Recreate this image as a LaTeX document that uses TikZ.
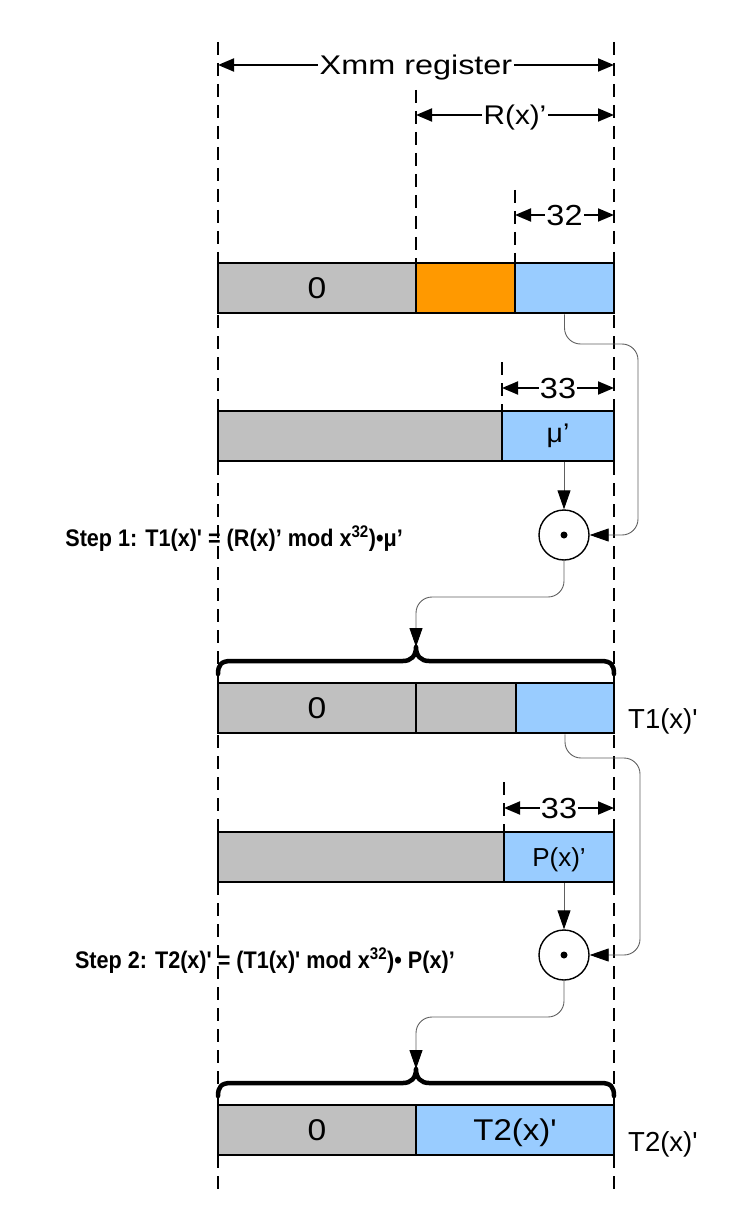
\documentclass[tikz,border=0pt]{standalone}
\usepackage{fontspec}
\setmainfont{Liberation Sans}[Ligatures=TeXOff]
\usepackage{graphicx}
\usetikzlibrary{arrows.meta}
\definecolor{cgray}{HTML}{C0C0C0}
\definecolor{corange}{HTML}{FF9900}
\definecolor{cblue}{HTML}{99CCFF}
\definecolor{cline}{HTML}{606060}
\newcommand{\sx}[2]{\scalebox{#1}[1]{#2}}
\begin{document}
\begin{tikzpicture}[x=1pt,y=-1pt,
  guide/.style={line width=1.8pt, dash pattern=on 13pt off 8pt},
  dimline/.style={line width=1.9pt, {Triangle[length=16pt,width=13pt]}-{Triangle[length=16pt,width=13pt]}},
  dimlab/.style={fill=white, inner sep=2pt, text depth=0pt},
  cell/.style={draw=black, line width=2.9pt, inner sep=0pt, minimum height=50pt},
  conn/.style={draw=cline, line width=0.9pt, rounded corners=16pt},
  conntip/.style={-{Triangle[length=19pt,width=13pt,color=black]}},
  opnode/.style={circle, draw=black, line width=1.4pt, fill=white, minimum size=50pt, inner sep=0pt},
  opdot/.style={circle, fill=black, minimum size=7pt, inner sep=0pt},
  bracestyle/.style={line width=4.5pt, line cap=round, line join=round},
  bigtext/.style={font=\fontsize{27}{32}\selectfont},
  boxtext/.style={font=\fontsize{30}{34}\selectfont, text height=21.5pt, text depth=0pt},
  steptext/.style={font=\fontsize{24}{28}\selectfont\bfseries, inner sep=0pt, anchor=east, text height=17.2pt, text depth=0pt},
  sidetext/.style={font=\fontsize{27.5}{32}\selectfont, inner sep=0pt, anchor=west, text height=19.7pt, text depth=0pt}
]
\useasboundingbox (0,0) rectangle (742,1230);

% guide coordinates
\coordinate (gLt) at (218,42);  \coordinate (gLb) at (218,1193);
\coordinate (gRt) at (614,42);  \coordinate (gRb) at (614,1193);
\coordinate (gAt) at (416,90);  \coordinate (gAb) at (416,263);
\coordinate (gBt) at (515,190); \coordinate (gBb) at (515,263);
\coordinate (gCt) at (502,362); \coordinate (gCb) at (502,411);
\coordinate (gDt) at (504,782); \coordinate (gDb) at (504,832);
\draw[guide] (gLt) -- (gLb);
\draw[guide] (gRt) -- (gRb);
\draw[guide] (gAt) -- (gAb);
\draw[guide] (gBt) -- (gBb);
\draw[guide] (gCt) -- (gCb);
\draw[guide] (gDt) -- (gDb);

% dimension arrows
\coordinate (xmmL) at (218,65);  \coordinate (xmmR) at (614,65);
\coordinate (rxL) at (416,115);  \coordinate (rxR) at (614,115);
\coordinate (d32L) at (515,215); \coordinate (d32R) at (614,215);
\coordinate (d33L) at (502,388); \coordinate (d33R) at (614,388);
\coordinate (e33L) at (504,808); \coordinate (e33R) at (614,808);
\draw[dimline] (xmmL) -- node[dimlab, bigtext, text height=19.4pt] (xmmlab) {\sx{1.2}{Xmm register}} (xmmR);
\draw[dimline] (rxL) -- node[dimlab, bigtext, text height=19.4pt] (rxlab) {\sx{1.1}{R(x)’}} (rxR);
\draw[dimline] (d32L) -- node[dimlab, font=\fontsize{29}{33}\selectfont, text height=20.8pt, inner sep=1pt] (d32lab) {\sx{1.12}{32}} (d32R);
\draw[dimline] (d33L) -- node[dimlab, font=\fontsize{29}{33}\selectfont, text height=20.8pt, inner sep=1pt] (d33lab) {\sx{1.12}{33}} (d33R);
\draw[dimline] (e33L) -- node[dimlab, font=\fontsize{29}{33}\selectfont, text height=20.8pt, inner sep=1pt] (e33lab) {\sx{1.12}{33}} (e33R);

% cells
\node[cell, fill=cgray, minimum width=198pt, boxtext] (r1a) at (317,288) {\sx{1.12}{0}};
\node[cell, fill=corange, minimum width=99pt] (r1b) at (465.5,288) {};
\node[cell, fill=cblue, minimum width=99pt] (r1c) at (564.5,288) {};

\node[cell, fill=cgray, minimum width=284pt] (r2a) at (360,436) {};
\node[cell, fill=cblue, minimum width=112pt, font=\fontsize{27}{32}\selectfont] (r2b) at (558,436) {\sx{1.05}{μ’}};

\node[cell, fill=cgray, minimum width=198pt, boxtext] (r3a) at (317,708) {\sx{1.12}{0}};
\node[cell, fill=cgray, minimum width=100pt] (r3b) at (466,708) {};
\node[cell, fill=cblue, minimum width=98pt] (r3c) at (565,708) {};

\node[cell, fill=cgray, minimum width=286pt] (r4a) at (361,857) {};
\node[cell, fill=cblue, minimum width=110pt, font=\fontsize{26}{30}\selectfont, text height=18.6pt, text depth=0pt] (r4b) at (559,857) {P(x)’};

\node[cell, fill=cgray, minimum width=198pt, boxtext] (r5a) at (317,1130) {\sx{1.12}{0}};
\node[cell, fill=cblue, minimum width=198pt, boxtext] (r5b) at (515,1130) {\sx{1.1}{T2(x)'}};

% operator circles
\node[opnode] (c1) at (564,535) {};
\node[opdot] (c1d) at (c1.center) {};
\node[opnode] (c2) at (564,955) {};
\node[opdot] (c2d) at (c2.center) {};

% braces
\coordinate (b1tip) at (416,647);
\draw[bracestyle] (218,674) .. controls (218,665) and (221,661) .. (231,661) -- (403,661)
  .. controls (411,661) and (416,656) .. (b1tip)
  .. controls (416,656) and (421,661) .. (429,661) -- (601,661)
  .. controls (611,661) and (614,665) .. (614,674);
\coordinate (b2tip) at (416,1069);
\draw[bracestyle] (218,1096) .. controls (218,1087) and (221,1083) .. (231,1083) -- (403,1083)
  .. controls (411,1083) and (416,1078) .. (b2tip)
  .. controls (416,1078) and (421,1083) .. (429,1083) -- (601,1083)
  .. controls (611,1083) and (614,1087) .. (614,1096);

% connectors
\coordinate (k1a) at (638,344);
\coordinate (k1b) at (638,535);
\coordinate (k2) at (416,597);
\coordinate (k3a) at (640,758);
\coordinate (k3b) at (640,955);
\coordinate (k4) at (416,1017);
\draw[conn, conntip] (r1c.south) |- (k1a) -- (k1b) -- (c1.east);
\draw[conn, conntip] (c1 |- r2b.south) -- (c1.north);
\draw[conn, conntip] (c1.south) |- (k2) -- (b1tip);
\draw[conn, conntip] (r3c.south) |- (k3a) -- (k3b) -- (c2.east);
\draw[conn, conntip] (c2 |- r4b.south) -- (c2.north);
\draw[conn, conntip] (c2.south) |- (k4) -- (b2tip);

% texts
\node[steptext] (s1) at (403,538) {\sx{0.9}{Step 1: T1(x)' = (R(x)’ mod x\textsuperscript{32})•μ’}};
\node[steptext] (s2) at (455,960) {\sx{0.9}{Step 2: T2(x)' = (T1(x)' mod x\textsuperscript{32})• P(x)’}};
\node[sidetext] (t1lab) at (628,719) {T1(x)'};
\node[sidetext] (t2lab) at (628,1142) {T2(x)'};
\end{tikzpicture}
\end{document}
